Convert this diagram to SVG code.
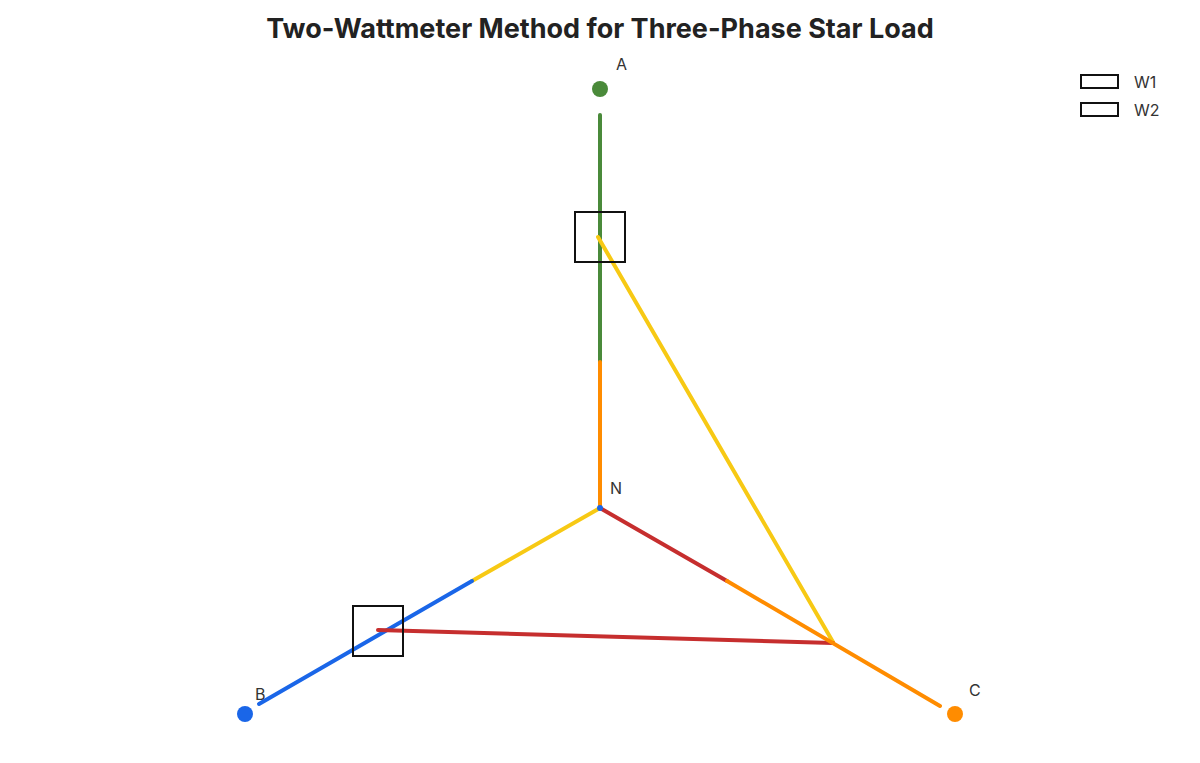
<svg xmlns="http://www.w3.org/2000/svg" width="1200" height="763" viewBox="0 0 1200 763">
<style>
.t{font-family:"Inter","Liberation Sans",sans-serif;fill:#222}
.l{font-size:16px;fill:#333}
.w{stroke-width:4;stroke-linecap:round;fill:none}
.box{fill:none;stroke:#111;stroke-width:2}
</style>
<rect width="1200" height="763" fill="#fff"/>
<text class="t" x="600" y="38" text-anchor="middle" font-size="27" font-weight="bold">Two-Wattmeter Method for Three-Phase Star Load</text>
<g id="connectors">
<line class="w" stroke="#4a8a3a" x1="600" y1="115" x2="600" y2="362"/>
<line class="w" stroke="#ff8c00" x1="600" y1="362" x2="600" y2="508"/>
<line class="w" stroke="#f7c914" x1="598" y1="237" x2="833" y2="642"/>
<line class="w" stroke="#f7c914" x1="600" y1="508" x2="472" y2="581"/>
<line class="w" stroke="#1a66e8" x1="472" y1="581" x2="259" y2="704"/>
<line class="w" stroke="#c62e2e" x1="378" y1="630" x2="833" y2="643"/>
<line class="w" stroke="#c62e2e" x1="600" y1="508" x2="727" y2="581"/>
<line class="w" stroke="#ff8c00" x1="727" y1="581" x2="940" y2="706"/>
</g>
<g id="A"><circle cx="600" cy="89" r="8" fill="#4a8a3a"/><text class="t l" x="616" y="70">A</text></g>
<g id="N"><circle cx="600" cy="508" r="3" fill="#1a66e8"/><text class="t l" x="610" y="494">N</text></g>
<g id="B"><circle cx="245" cy="714" r="8" fill="#1a66e8"/><text class="t l" x="255" y="700">B</text></g>
<g id="C"><circle cx="955" cy="714" r="8" fill="#ff8c00"/><text class="t l" x="969" y="696">C</text></g>
<g id="W1"><rect class="box" x="575" y="212" width="50" height="50"/></g>
<g id="W2"><rect class="box" x="353" y="606" width="50" height="50"/></g>
<g id="legend">
<rect class="box" x="1081" y="75" width="37" height="13"/><text class="t l" x="1134" y="88">W1</text>
<rect class="box" x="1081" y="103" width="37" height="13"/><text class="t l" x="1134" y="116">W2</text>
</g>
</svg>
